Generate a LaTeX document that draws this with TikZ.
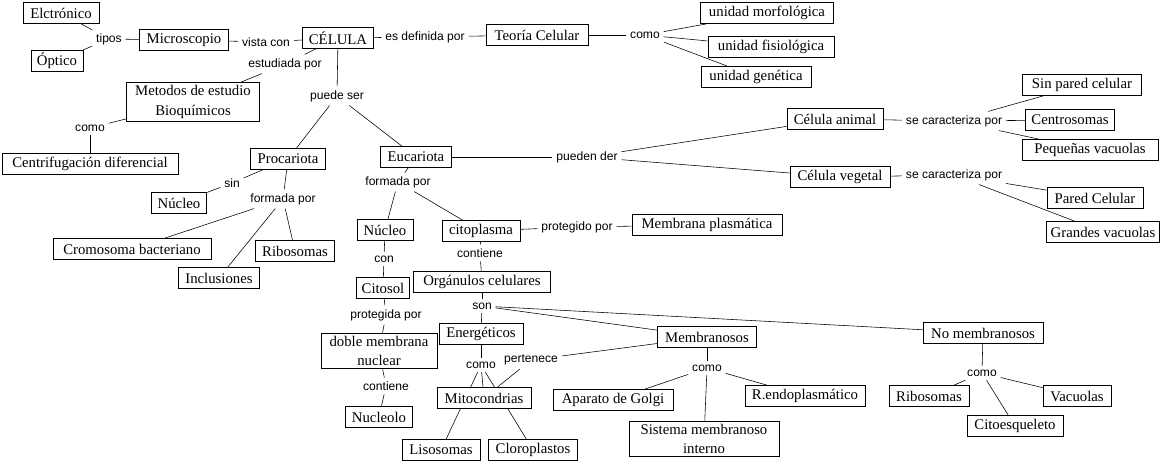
\documentclass[tikz,border=0pt]{standalone}
\usepackage{fontspec}
\setmainfont{Liberation Serif}
\newfontfamily\lblfont{Liberation Sans}
\usepackage{tikz}
\usetikzlibrary{calc,backgrounds}

\begin{document}
\begin{tikzpicture}[x=0.025cm,y=-0.025cm,line width=0.6pt,
  box/.style={draw,fill=white,font=\fontsize{10.5}{14}\selectfont,inner xsep=3pt,inner ysep=2pt,
    minimum height=21*0.025cm,minimum width=#1*0.025cm},
  box/.default=40,
  lbl/.style={font=\lblfont\fontsize{8.6}{10}\selectfont,inner sep=2.5pt}]
\useasboundingbox (0,0) rectangle (1171,465);

%microscope and definition
\node[box=76] (elec) at (61,13) {Elctrónico};
\node[box=52] (opt) at (57,61) {Óptico};
\node[lbl] (tipos) at (109,39) {tipos};
\node[box=89] (micro) at (184,40) {Microscopio};
\node[lbl] (vista) at (266,42) {vista con};
\node[box=71] (cel) at (338,38) {CÉLULA};
\node[lbl] (esdef) at (425,37) {es definida por};
\node[box=102] (teoria) at (537,35) {Teoría Celular};
\node[lbl] (como1) at (645,35) {como};
\node[box=133] (morf) at (767,13) {unidad morfológica};
\node[box=126] (fisio) at (771,47) {unidad fisiológica};
\node[box=110] (gen) at (756,77) {unidad genética};

%methods
\node[lbl] (estud) at (285,64) {estudiada por};
\node[box=133,align=center] (metod) at (193,102) {Metodos de estudio\\Bioquímicos};
\node[lbl] (como2) at (90,128) {como};
\node[box=176] (centri) at (90,164) {Centrifugación diferencial};

%procariota
\node[lbl] (puede) at (337,96) {puede ser};
\node[box=75] (proc) at (288,159) {Procariota};
\node[lbl] (sin) at (232,183) {sin};
\node[box=55] (nucP) at (179,203) {Núcleo};
\node[lbl] (formP) at (283,199) {formada por};
\node[box=158] (cromo) at (132,249) {Cromosoma bacteriano};
\node[box=79] (riboP) at (295,251) {Ribosomas};
\node[box=81] (inclu) at (219,278) {Inclusiones};

%eucariota
\node[box=71] (euca) at (416,157) {Eucariota};
\node[lbl] (pueden) at (587,157) {pueden der};
\node[box=96] (animal) at (835,119) {Célula animal};
\node[box=100] (vegetal) at (840,177) {Célula vegetal};
\node[lbl] (carA) at (954,121) {se caracteriza por};
\node[box=119] (sinpared) at (1082,85) {Sin pared celular};
\node[box=89] (centro) at (1070,120) {Centrosomas};
\node[box=136] (pequenas) at (1090,150) {Pequeñas vacuolas};
\node[lbl] (carV) at (954,175) {se caracteriza por};
\node[box=96] (pared) at (1095,198) {Pared Celular};
\node[box=113] (grandes) at (1103,232) {Grandes vacuolas};

%nucleo and citoplasma
\node[lbl] (formE) at (398,182) {formada por};
\node[box=56] (nucE) at (385,230) {Núcleo};
\node[box=78] (cito) at (481,231) {citoplasma};
\node[lbl] (proteg) at (577,227) {protegido por};
\node[box=150] (membP) at (707,225) {Membrana plasmática};
\node[lbl] (con) at (384,259) {con};
\node[box=53] (citosol) at (383,288) {Citosol};
\node[lbl] (protegida) at (386,315) {protegida por};
\node[box=116,align=center] (doble) at (379,351) {doble membrana\\nuclear};
\node[lbl] (conti2) at (386,386) {contiene};
\node[box=67] (nucleolo) at (379,417) {Nucleolo};

%organulos
\node[lbl] (conti1) at (480,253) {contiene};
\node[box=137] (organ) at (482,282) {Orgánulos celulares};
\node[lbl] (son) at (482,306) {son};
\node[box=84] (energ) at (481,334) {Energéticos};
\node[lbl] (como3) at (481,365) {como};
\node[lbl] (perten) at (531,360) {pertenece};
\node[box=94] (mito) at (484,398) {Mitocondrias};
\node[box=78] (liso) at (441,450) {Lisosomas};
\node[box=89] (cloro) at (533,450) {Cloroplastos};
\node[box=99] (membr) at (707,337) {Membranosos};
\node[lbl] (como4) at (707,368) {como};
\node[box=120] (golgi) at (613,400) {Aparato de Golgi};
\node[box=150,align=center] (sistema) at (704,439) {Sistema membranoso\\interno};
\node[box=120] (retic) at (805,396) {R.endoplasmático};
\node[box=120] (nomem) at (983,333) {No membranosos};
\node[lbl] (como5) at (982,373) {como};
\node[box=80] (riboN) at (929,396) {Ribosomas};
\node[box=68] (vacu) at (1077,396) {Vacuolas};
\node[box=96] (citoesq) at (1015,426) {Citoesqueleto};

\begin{scope}[on background layer]
\draw (tipos)--(elec);
\draw (tipos)--(opt);
\draw (micro)--(tipos);
\draw (micro)--(vista);
\draw (vista)--(cel);
\draw (cel)--(esdef);
\draw (esdef)--(teoria);
\draw (teoria)--(como1);
\draw (como1)--(morf);
\draw (como1)--(fisio);
\draw (como1)--(gen);
\draw (cel)--(estud);
\draw (estud)--(metod);
\draw (metod)--(como2);
\draw (como2)--(centri);
\draw (cel)--(puede);
\draw (puede)--(proc);
\draw (puede)--(euca);
\draw (proc)--(sin);
\draw (sin)--(nucP);
\draw (proc)--(formP);
\draw (formP)--(cromo);
\draw (formP)--(inclu);
\draw (formP)--(riboP);
\draw (euca)--(pueden);
\draw (pueden)--(animal);
\draw (pueden)--(vegetal);
\draw (animal)--(carA);
\draw (carA)--(sinpared);
\draw (carA)--(centro);
\draw (carA)--(pequenas);
\draw (vegetal)--(carV);
\draw (carV)--(pared);
\draw (carV)--(grandes);
\draw (euca)--(formE);
\draw (formE)--(nucE);
\draw (formE)--(cito);
\draw (cito)--(proteg);
\draw (proteg)--(membP);
\draw (nucE)--(con);
\draw (con)--(citosol);
\draw (citosol)--(protegida);
\draw (protegida)--(doble);
\draw (doble)--(conti2);
\draw (conti2)--(nucleolo);
\draw (cito)--(conti1);
\draw (conti1)--(organ);
\draw (organ)--(son);
\draw (son)--(energ);
\draw (son)--(membr);
\draw (son)--(nomem);
\draw (energ)--(como3);
\draw (como3)--(liso);
\draw (como3)--(mito);
\draw (como3)--(cloro);
\draw (membr)--(perten);
\draw (perten)--(mito);
\draw (membr)--(como4);
\draw (como4)--(golgi);
\draw (como4)--(sistema);
\draw (como4)--(retic);
\draw (nomem)--(como5);
\draw (como5)--(riboN);
\draw (como5)--(citoesq);
\draw (como5)--(vacu);
\end{scope}

\end{tikzpicture}
\end{document}
